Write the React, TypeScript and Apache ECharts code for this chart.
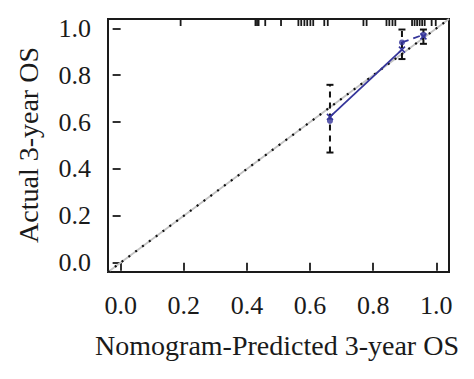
import React, { useEffect, useRef } from "react";
import * as echarts from "echarts";

const tickValues = [0, 0.2, 0.4, 0.6, 0.8, 1.0];
const axisMin = -0.04;
const axisMax = 1.04;

const rugX = [
  0.19, 0.427, 0.432, 0.437, 0.458, 0.508,
  0.563, 0.572, 0.582, 0.591, 0.601, 0.61,
  0.645, 0.656, 0.769, 0.779,
  0.842, 0.851, 0.861, 0.87,
  0.923, 0.931, 0.939, 0.947, 0.955, 0.963,
  0.985, 0.998,
];

const predicted = [0.663, 0.891, 0.959];
const observed = [0.605, 0.94, 0.973];
const corrected = [0.622, 0.909, 0.966];
const ciLower = [0.47, 0.869, 0.934];
const ciUpper = [0.759, 0.995, 0.995];

const xTitle = "Nomogram-Predicted 3-year OS";
const yTitle = "Actual 3-year OS";

const BLUE = "#35359a";
const FONT = "Liberation Serif";
const INK = "#1a1a1a";

export default function App() {
  const ref = useRef<HTMLDivElement>(null);
  useEffect(() => {
    if (!ref.current) return;
    const chart = echarts.init(ref.current, null, { renderer: "svg" });
    const axisCommon = {
      type: "value",
      min: axisMin,
      max: axisMax,
      splitLine: { show: false },
      axisLine: { show: false },
      axisTick: {
        show: true,
        inside: false,
        length: 8,
        customValues: tickValues,
        lineStyle: { color: INK, width: 1.8 },
      },
      axisLabel: {
        customValues: tickValues,
        formatter: (v: number) => v.toFixed(1),
        fontFamily: FONT,
        fontSize: 26,
        color: INK,
      },
    };
    chart.setOption({
      animation: false,
      grid: {
        left: 108,
        top: 19,
        right: 25,
        bottom: 107,
        show: true,
        borderColor: INK,
        borderWidth: 2,
        backgroundColor: "#fff",
      },
      xAxis: { ...axisCommon, axisLabel: { ...axisCommon.axisLabel, margin: 20 } },
      yAxis: { ...axisCommon, axisLabel: { ...axisCommon.axisLabel, margin: 17 } },
      graphic: [
        {
          type: "text",
          x: 277,
          y: 345,
          style: {
            text: xTitle,
            fontFamily: FONT,
            fontSize: 28,
            fill: INK,
            textAlign: "center",
            textVerticalAlign: "middle",
          },
        },
        {
          type: "text",
          x: 28,
          y: 145,
          rotation: Math.PI / 2,
          style: {
            text: yTitle,
            fontFamily: FONT,
            fontSize: 28,
            fill: INK,
            textAlign: "center",
            textVerticalAlign: "middle",
          },
        },
      ],
      series: [
        {
          type: "line",
          data: [
            [axisMin, axisMin],
            [axisMax, axisMax],
          ],
          symbol: "none",
          lineStyle: { color: "#c4c4c4", width: 1.8 },
          z: 1,
        },
        {
          type: "line",
          data: [
            [axisMin, axisMin],
            [axisMax, axisMax],
          ],
          symbol: "none",
          lineStyle: { color: "#111", width: 2.2, type: [2, 6.5] },
          z: 2,
        },
        {
          type: "custom",
          clip: false,
          data: predicted.map((p, i) => [p, ciLower[i], ciUpper[i]]),
          renderItem: (params: any, api: any) => {
            const lo = api.coord([api.value(0), api.value(1)]);
            const hi = api.coord([api.value(0), api.value(2)]);
            const w = 3.5;
            const st = { stroke: "#111", lineWidth: 2 };
            return {
              type: "group",
              children: [
                {
                  type: "line",
                  shape: { x1: lo[0], y1: lo[1], x2: hi[0], y2: hi[1] },
                  style: { ...st, lineDash: [6, 5] },
                },
                {
                  type: "line",
                  shape: { x1: hi[0] - w, y1: hi[1], x2: hi[0] + w, y2: hi[1] },
                  style: st,
                },
                {
                  type: "line",
                  shape: { x1: lo[0] - w, y1: lo[1], x2: lo[0] + w, y2: lo[1] },
                  style: st,
                },
              ],
            };
          },
          z: 3,
        },
        {
          type: "line",
          data: [
            [predicted[0], corrected[0]],
            [predicted[1], corrected[1]],
          ],
          symbol: "none",
          lineStyle: { color: BLUE, width: 1.8 },
          z: 4,
        },
        {
          type: "line",
          data: [
            [predicted[1], observed[1]],
            [predicted[2], observed[2]],
          ],
          symbol: "none",
          lineStyle: { color: BLUE, width: 1.8, type: [7, 5] },
          z: 4,
        },
        {
          type: "scatter",
          data: predicted.map((p, i) => [p, observed[i]]),
          symbol: "circle",
          symbolSize: 6,
          itemStyle: { color: BLUE },
          z: 5,
        },
        {
          type: "custom",
          clip: false,
          data: predicted.map((p, i) => [p, corrected[i]]),
          renderItem: (params: any, api: any) => {
            const c = api.coord([api.value(0), api.value(1)]);
            const s = 3;
            const st = { stroke: BLUE, lineWidth: 1.6 };
            return {
              type: "group",
              children: [
                {
                  type: "line",
                  shape: { x1: c[0] - s, y1: c[1] - s, x2: c[0] + s, y2: c[1] + s },
                  style: st,
                },
                {
                  type: "line",
                  shape: { x1: c[0] + s, y1: c[1] - s, x2: c[0] - s, y2: c[1] + s },
                  style: st,
                },
              ],
            };
          },
          z: 6,
        },
        {
          type: "custom",
          clip: false,
          data: rugX.map((x) => [x, axisMax]),
          renderItem: (params: any, api: any) => {
            const c = api.coord([api.value(0), api.value(1)]);
            return {
              type: "line",
              shape: { x1: c[0], y1: c[1], x2: c[0], y2: c[1] + 7 },
              style: { stroke: INK, lineWidth: 1.8 },
            };
          },
          z: 6,
        },
      ],
    });
    return () => chart.dispose();
  }, []);
  return <div ref={ref} style={{ width: 474, height: 379, margin: -8 }} />;
}
